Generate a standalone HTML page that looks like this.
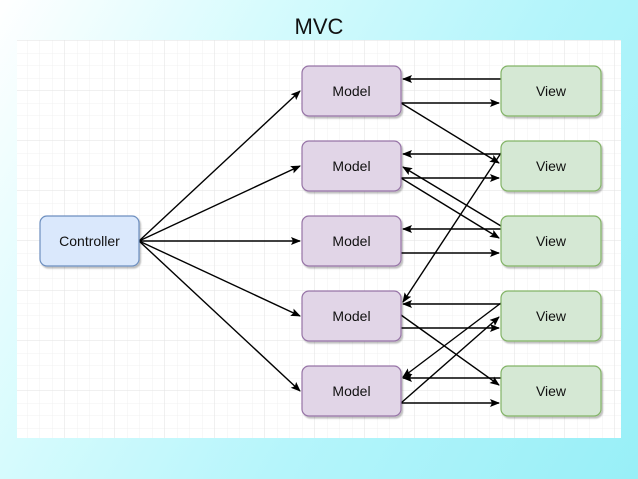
<!DOCTYPE html>
<html><head><style>
body{margin:0;width:638px;height:479px;overflow:hidden;background:linear-gradient(120deg,#ffffff 0%,#d6fbfd 30%,#b5f5fb 60%,#98eff7 100%);font-family:"Liberation Sans",sans-serif;}
.t{position:absolute;left:0;width:638px;top:14px;text-align:center;font-size:22px;color:#111;}
</style></head><body>
<div class="t">MVC</div>
<svg width="638" height="479" style="position:absolute;left:0;top:0">
<defs>
<pattern id="g1" width="12.5" height="12.5" patternUnits="userSpaceOnUse" x="2.5" y="3.5"><path d="M12.5 0V12.5M0 12.5H12.5" stroke="#f0f0f0" stroke-width="1" fill="none"/></pattern>
<pattern id="g2" width="50" height="50" patternUnits="userSpaceOnUse" x="15" y="41"><path d="M50 0V50M0 50H50" stroke="#e2e2e2" stroke-width="1" fill="none"/></pattern>
<marker id="a" markerWidth="10" markerHeight="8" refX="9" refY="4" orient="auto" markerUnits="userSpaceOnUse"><path d="M0,0L10,4L0,8L2,4z" fill="#000"/></marker>
<filter id="s"><feDropShadow dx="1.5" dy="2" stdDeviation="0.8" flood-color="#000" flood-opacity="0.25"/></filter>
</defs>
<rect x="17" y="40" width="604" height="398" fill="#fff"/>
<rect x="17" y="40" width="604" height="398" fill="url(#g1)"/>
<rect x="17" y="40" width="604" height="398" fill="url(#g2)"/>
<g stroke="#000" stroke-width="1.4" fill="none" marker-end="url(#a)">
<line x1="139" y1="241" x2="300" y2="91"/>
<line x1="139" y1="241" x2="300" y2="166"/>
<line x1="139" y1="241" x2="300" y2="241"/>
<line x1="139" y1="241" x2="300" y2="316"/>
<line x1="139" y1="241" x2="300" y2="391"/>
<line x1="501" y1="79" x2="403" y2="79"/><line x1="401" y1="103" x2="499" y2="103"/>
<line x1="501" y1="154" x2="403" y2="154"/><line x1="401" y1="178" x2="499" y2="178"/>
<line x1="501" y1="229" x2="403" y2="229"/><line x1="401" y1="253" x2="499" y2="253"/>
<line x1="501" y1="304" x2="403" y2="304"/><line x1="401" y1="328" x2="499" y2="328"/>
<line x1="501" y1="378" x2="403" y2="378"/><line x1="401" y1="403" x2="499" y2="403"/>
<line x1="401" y1="103" x2="499" y2="163"/>
<line x1="501" y1="153" x2="403" y2="302"/>
<line x1="501" y1="226" x2="403" y2="167"/>
<line x1="401" y1="178" x2="499" y2="238"/>
<line x1="401" y1="315" x2="499" y2="385"/>
<line x1="501" y1="303" x2="403" y2="377"/>
<line x1="401" y1="403" x2="499" y2="317"/>
</g>
<g filter="url(#s)" stroke-width="1.2">
<rect x="40" y="216" width="99" height="50" rx="7" fill="#dae8fc" stroke="#6c8ebf"/>
<rect x="302" y="66" width="99" height="50" rx="7" fill="#e1d5e7" stroke="#9673a6"/>
<rect x="302" y="141" width="99" height="50" rx="7" fill="#e1d5e7" stroke="#9673a6"/>
<rect x="302" y="216" width="99" height="50" rx="7" fill="#e1d5e7" stroke="#9673a6"/>
<rect x="302" y="291" width="99" height="50" rx="7" fill="#e1d5e7" stroke="#9673a6"/>
<rect x="302" y="366" width="99" height="50" rx="7" fill="#e1d5e7" stroke="#9673a6"/>
<rect x="501" y="66" width="100" height="50" rx="7" fill="#d5e8d4" stroke="#82b366"/>
<rect x="501" y="141" width="100" height="50" rx="7" fill="#d5e8d4" stroke="#82b366"/>
<rect x="501" y="216" width="100" height="50" rx="7" fill="#d5e8d4" stroke="#82b366"/>
<rect x="501" y="291" width="100" height="50" rx="7" fill="#d5e8d4" stroke="#82b366"/>
<rect x="501" y="366" width="100" height="50" rx="7" fill="#d5e8d4" stroke="#82b366"/>
</g>
<g font-family="Liberation Sans, sans-serif" font-size="14" text-anchor="middle" fill="#111">
<text x="89.5" y="246">Controller</text>
<text x="351.5" y="96">Model</text><text x="351.5" y="171">Model</text><text x="351.5" y="246">Model</text><text x="351.5" y="321">Model</text><text x="351.5" y="396">Model</text>
<text x="551" y="96">View</text><text x="551" y="171">View</text><text x="551" y="246">View</text><text x="551" y="321">View</text><text x="551" y="396">View</text>
</g>
</svg>
</body></html>
